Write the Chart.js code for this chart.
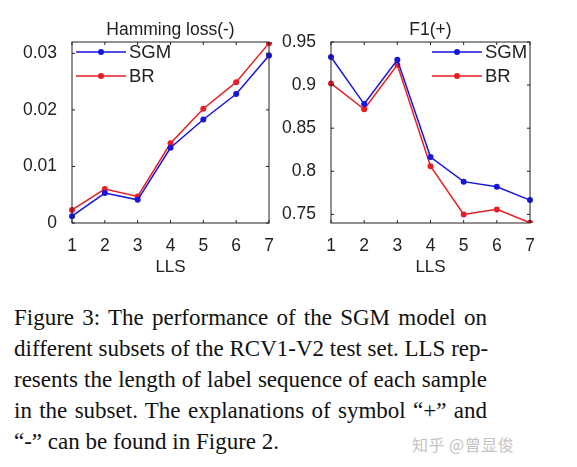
<!DOCTYPE html>
<html>
<head>
<meta charset="utf-8">
<script src="https://cdn.jsdelivr.net/npm/chart.js@4.4.1/dist/chart.umd.min.js"></script>
<style>
  html, body { margin: 0; padding: 0; background: #fff; }
  body { width: 577px; height: 467px; position: relative; overflow: hidden; }
  #hamming { position: absolute; left: 0; top: 0; }
  #f1 { position: absolute; left: 280px; top: 0; }
  #caption {
    position: absolute; left: 14px; top: 302px; width: 473px;
    font-family: "Liberation Serif", "DejaVu Serif", serif;
    font-size: 23px; line-height: 31px; color: #111;
  }
  #caption .ln { text-align: justify; text-align-last: justify; white-space: nowrap; }
  #caption .last { text-align: left; text-align-last: left; }
  #mark {
    position: absolute; left: 412px; top: 432px;
    font-family: "Noto Sans CJK SC", sans-serif; font-size: 16px;
    color: #c4c4c4; letter-spacing: 0.5px;
  }
</style>
</head>
<body>
<canvas id="hamming" width="285" height="285"></canvas>
<canvas id="f1" width="297" height="285"></canvas>
<div id="caption">
  <div class="ln">Figure 3: The performance of the SGM model on</div>
  <div class="ln">different subsets of the RCV1-V2 test set. LLS rep-</div>
  <div class="ln">resents the length of label sequence of each sample</div>
  <div class="ln">in the subset. The explanations of symbol “+” and</div>
  <div class="ln last">“-” can be found in Figure 2.</div>
</div>
<div id="mark">知乎 @曾显俊</div>
<script>
// label sequence lengths
const lls = ['1', '2', '3', '4', '5', '6', '7'];

// Hamming loss (lower is better)
const hammingSGM = [0.0012, 0.0053, 0.0041, 0.0133, 0.0183, 0.0228, 0.0296];
const hammingBR = [0.0023, 0.0060, 0.0047, 0.0141, 0.0202, 0.0249, 0.0318];
const hammingTicks = [0, 0.01, 0.02, 0.03];

// F1 (higher is better)
const f1SGM = [0.9326, 0.878, 0.9294, 0.8166, 0.788, 0.782, 0.7666];
const f1BR = [0.9019, 0.872, 0.9236, 0.8058, 0.750, 0.7558, 0.7403];
const f1Ticks = [0.75, 0.8, 0.85, 0.9, 0.95];

const BLUE = 'rgb(22, 22, 222)';
const RED = 'rgb(232, 30, 36)';
const INK = '#222';
const FONT = '"Liberation Sans", Arial, sans-serif';

// box around the plot with small inward ticks, matlab style
const framePlugin = {
    id: 'frame',
    afterDraw(chart) {
        const { ctx, chartArea: a, scales } = chart;
        ctx.save();
        ctx.strokeStyle = INK;
        ctx.lineWidth = 1;
        ctx.strokeRect(a.left, a.top, a.right - a.left, a.bottom - a.top);
        const t = 3;
        ctx.beginPath();
        scales.x.ticks.forEach((tk, i) => {
            const px = scales.x.getPixelForTick(i);
            ctx.moveTo(px, a.bottom); ctx.lineTo(px, a.bottom - t);
            ctx.moveTo(px, a.top); ctx.lineTo(px, a.top + t);
        });
        scales.y.ticks.forEach((tk) => {
            const py = scales.y.getPixelForValue(tk.value);
            ctx.moveTo(a.left, py); ctx.lineTo(a.left + t, py);
            ctx.moveTo(a.right, py); ctx.lineTo(a.right - t, py);
        });
        ctx.stroke();
        ctx.restore();
    }
};

// legend drawn inside the plot area
const insideLegend = {
    id: 'insideLegend',
    afterDraw(chart, args, opts) {
        const { ctx, chartArea: a } = chart;
        const lineLen = 50;
        const x0 = opts.side === 'right' ? a.right - 98 : a.left + 4;
        ctx.save();
        ctx.font = '18.5px ' + FONT;
        ctx.textBaseline = 'middle';
        chart.data.datasets.forEach((ds, i) => {
            const y = a.top + 10 + i * 24;
            ctx.strokeStyle = ds.borderColor;
            ctx.lineWidth = 1.5;
            ctx.beginPath();
            ctx.moveTo(x0, y);
            ctx.lineTo(x0 + lineLen, y);
            ctx.stroke();
            ctx.fillStyle = ds.borderColor;
            ctx.beginPath();
            ctx.arc(x0 + lineLen / 2, y, 3, 0, Math.PI * 2);
            ctx.fill();
            ctx.fillStyle = INK;
            ctx.fillText(ds.label, x0 + lineLen + 3, y + 1);
        });
        ctx.restore();
    }
};

function makeChart(id, title, sgm, br, yMin, yMax, yTicks, yWidth, padRight, side) {
    return new Chart(document.getElementById(id), {
        type: 'line',
        data: {
            labels: lls,
            datasets: [
                { label: 'SGM', data: sgm, borderColor: BLUE, backgroundColor: BLUE },
                { label: 'BR', data: br, borderColor: RED, backgroundColor: RED }
            ]
        },
        options: {
            responsive: false,
            animation: false,
            layout: { padding: { left: 0, right: padRight, top: 0, bottom: 0 } },
            elements: {
                line: { borderWidth: 1.5, tension: 0 },
                point: { radius: 3, borderWidth: 0, hoverRadius: 3 }
            },
            plugins: {
                legend: { display: false },
                tooltip: { enabled: false },
                title: {
                    display: true,
                    text: title,
                    fullSize: false,
                    color: INK,
                    font: { family: FONT, size: 17.5, weight: 'normal' },
                    padding: { top: 20, bottom: 1 }
                },
                insideLegend: { side: side }
            },
            scales: {
                x: {
                    offset: false,
                    grid: { display: false },
                    border: { display: false },
                    ticks: { color: INK, padding: 5, font: { family: FONT, size: 17.5 }, maxRotation: 0 },
                    title: {
                        display: true, text: 'LLS', color: INK,
                        font: { family: FONT, size: 17 },
                        padding: { top: 0, bottom: 7 }
                    },
                    afterFit(scale) { scale.height = 62; }
                },
                y: {
                    min: yMin,
                    max: yMax,
                    grid: { display: false },
                    border: { display: false },
                    ticks: {
                        color: INK, padding: 7,
                        font: { family: FONT, size: 17.5 },
                        callback: (v) => String(v)
                    },
                    afterBuildTicks(scale) {
                        scale.ticks = yTicks.map(v => ({ value: v }));
                    },
                    afterFit(scale) { scale.width = yWidth; }
                }
            }
        },
        plugins: [framePlugin, insideLegend]
    });
}

makeChart('hamming', 'Hamming loss(-)', hammingSGM, hammingBR, 0, 0.032, hammingTicks, 72, 16, 'left');
makeChart('f1', 'F1(+)', f1SGM, f1BR, 0.74, 0.95, f1Ticks, 51, 47, 'right');
</script>
</body>
</html>
